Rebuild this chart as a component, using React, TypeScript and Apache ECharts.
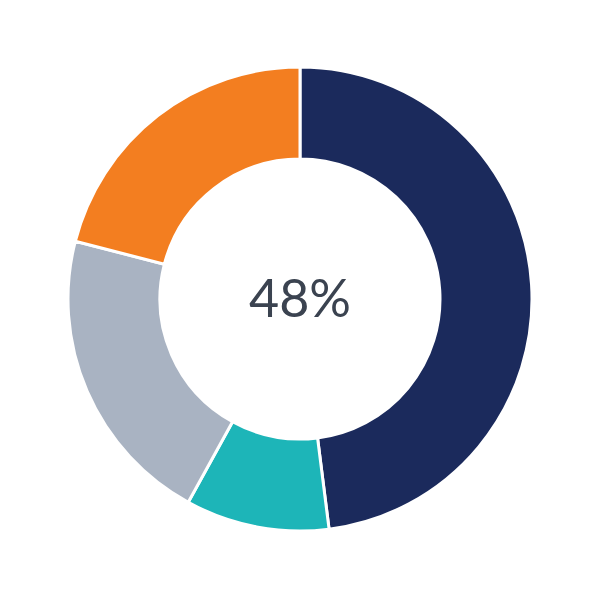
import React, { useEffect, useRef } from 'react'
import * as echarts from 'echarts'

const categories = ['A', 'B', 'C', 'D']
const values = [48, 10, 21, 21]
const colors = ['#1b2a5c', '#1db5b8', '#a9b3c2', '#f37e20']
const centerLabel = '48%'

const App: React.FC = () => {
  const chartRef = useRef<HTMLDivElement>(null)

  useEffect(() => {
    if (!chartRef.current) return
    const chart = echarts.init(chartRef.current, undefined, { renderer: 'svg' })

    const option: echarts.EChartsOption = {
      animation: false,
      backgroundColor: '#ffffff',
      graphic: [
        {
          type: 'text',
          x: 300,
          y: 297,
          style: {
            text: centerLabel,
            align: 'center',
            verticalAlign: 'middle',
            fontFamily: 'Lato',
            fontWeight: 400,
            fontSize: 52,
            fill: '#3b4350'
          }
        }
      ],
      series: [
        {
          type: 'pie',
          radius: [140, 232],
          center: [300, 299],
          startAngle: 90,
          clockwise: true,
          label: { show: false },
          labelLine: { show: false },
          itemStyle: { borderColor: '#ffffff', borderWidth: 3 },
          data: categories.map((name, i) => ({
            name,
            value: values[i],
            itemStyle: { color: colors[i] }
          }))
        }
      ]
    }

    chart.setOption(option)
    return () => {
      chart.dispose()
    }
  }, [])

  return (
    <div
      ref={chartRef}
      style={{ position: 'fixed', left: 0, top: 0, width: 600, height: 600 }}
    />
  )
}

export default App
